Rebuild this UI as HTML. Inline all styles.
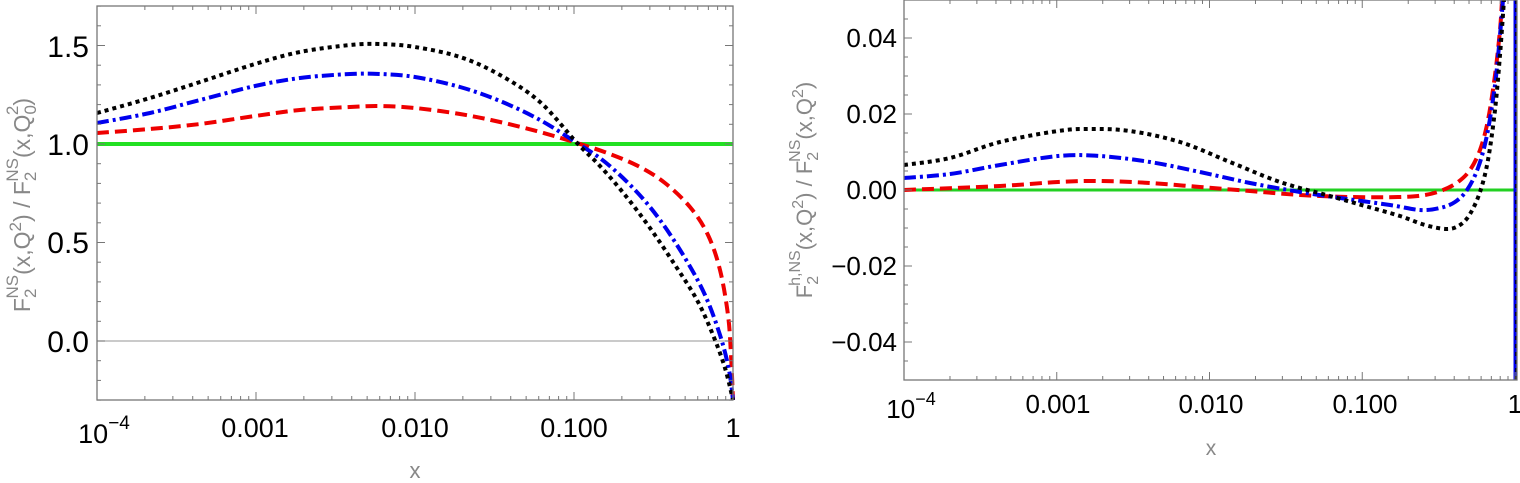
<!DOCTYPE html>
<html><head><meta charset="utf-8"><style>
html,body{margin:0;padding:0;background:#fff;}
svg{display:block;font-family:"Liberation Sans",sans-serif;}
</style></head><body>
<svg id="s" width="1520" height="483" viewBox="0 0 1520 483" xmlns="http://www.w3.org/2000/svg">
<rect width="1520" height="483" fill="#fff"/>
<!-- LEFT PLOT -->
<line x1="97" y1="341" x2="733" y2="341" stroke="#aaa" stroke-width="1.2"/>
<line x1="97" y1="144" x2="733" y2="144" stroke="#22e022" stroke-width="4"/>
<path class="c" fill="none" stroke="#e00" stroke-width="4" stroke-dasharray="12 6" data-p="97,133 150,129 200,124 255,116 300,110 350,107 380,106 415,108 460,114 500,122 540,132 577,143 610,154 640,167 665,183 690,207 708,235 720,270 728,315 731,355 733,400"/>
<path class="c" fill="none" stroke="#00e" stroke-width="4" stroke-dasharray="12 4 3 4" data-p="97,123 150,113 200,100 255,86 300,78 350,74 380,74 415,77 460,87 500,101 540,120 577,143 605,162 635,190 660,220 685,258 705,295 720,335 729,370 733,400"/>
<path class="c" fill="none" stroke="#000" stroke-width="4" stroke-dasharray="4 4" data-p="97,113 150,98 200,82 255,64 300,52 350,45 380,44 415,47 460,57 500,75 540,102 577,143 600,166 625,195 650,228 675,265 697,300 713,335 725,368 733,400"/>
<rect x="97" y="6" width="636" height="394" fill="none" stroke="#777" stroke-width="1.3"/>
<g font-size="30" text-anchor="end" fill="#000">
<text x="89" y="57">1.5</text><text x="89" y="155">1.0</text><text x="89" y="253">0.5</text><text x="89" y="352">0.0</text>
</g>
<g font-size="27" text-anchor="middle" fill="#000">
<text x="104" y="443">10<tspan font-size="19" dy="-14">−4</tspan></text>
<text x="255" y="437">0.001</text><text x="415" y="437">0.010</text><text x="574" y="437">0.100</text><text x="733" y="437">1</text>
</g>
<text x="415" y="478" font-size="22" fill="#888" text-anchor="middle">x</text>
<text transform="translate(30,205) rotate(-90)" font-size="23" fill="#888" text-anchor="middle">F<tspan font-size="17" dy="6">2</tspan><tspan font-size="17" dy="-18" dx="-10">NS</tspan><tspan dy="12">(x,Q</tspan><tspan font-size="17" dy="-9">2</tspan><tspan dy="9">) / F</tspan><tspan font-size="17" dy="6">2</tspan><tspan font-size="17" dy="-18" dx="-10">NS</tspan><tspan dy="12">(x,Q</tspan><tspan font-size="17" dy="6">0</tspan><tspan font-size="17" dy="-18" dx="-10">2</tspan><tspan dy="12">)</tspan></text>
<!-- RIGHT PLOT -->
<line x1="904" y1="190" x2="1515" y2="190" stroke="#22d022" stroke-width="3"/>
<path class="c" fill="none" stroke="#e00" stroke-width="4" stroke-dasharray="12 6" data-p="904,190 1000,186 1058,182 1100,181 1150,183 1200,187 1250,191 1300,195 1350,197 1400,197 1425,195 1443,190 1458,182 1470,170 1480,150 1488,120 1495,75 1500,30 1502,0"/>
<path class="c" fill="none" stroke="#00e" stroke-width="4" stroke-dasharray="12 4 3 4" data-p="904,178 950,174 1000,165 1058,156 1100,156 1150,162 1200,172 1250,183 1300,192 1340,198 1390,205 1420,210 1440,208 1455,202 1467,190 1478,168 1487,135 1495,85 1500,35 1503,0"/>
<path class="c" fill="none" stroke="#000" stroke-width="4" stroke-dasharray="4 4" data-p="904,165 950,158 1000,142 1058,131 1090,129 1130,131 1180,142 1230,162 1280,182 1330,196 1365,206 1400,216 1425,225 1447,229 1460,225 1470,214 1480,192 1488,160 1495,110 1500,55 1504,0"/>
<line x1="1515" y1="0" x2="1515" y2="380" stroke="#00e" stroke-width="3"/>
<line x1="1516" y1="0" x2="1516" y2="380" stroke="#000" stroke-width="1.5" stroke-dasharray="4 4"/>
<rect x="904" y="0" width="613" height="380" fill="none" stroke="#777" stroke-width="1.3"/>
<g font-size="26" text-anchor="end" fill="#000">
<text x="897" y="47">0.04</text><text x="897" y="123">0.02</text><text x="897" y="199">0.00</text><text x="897" y="275">−0.02</text><text x="897" y="351">−0.04</text>
</g>
<g font-size="26" text-anchor="middle" fill="#000">
<text x="911" y="418">10<tspan font-size="18" dy="-13">−4</tspan></text>
<text x="1058" y="413">0.001</text><text x="1211" y="413">0.010</text><text x="1365" y="413">0.100</text><text x="1515" y="413">1</text>
</g>
<text x="1211" y="455" font-size="21" fill="#888" text-anchor="middle">x</text>
<text transform="translate(812,190) rotate(-90)" font-size="22" fill="#888" text-anchor="middle">F<tspan font-size="16" dy="6">2</tspan><tspan font-size="16" dy="-18" dx="-10">h,NS</tspan><tspan dy="12">(x,Q</tspan><tspan font-size="16" dy="-9">2</tspan><tspan dy="9">) / F</tspan><tspan font-size="16" dy="6">2</tspan><tspan font-size="16" dy="-18" dx="-10">NS</tspan><tspan dy="12">(x,Q</tspan><tspan font-size="16" dy="-9">2</tspan><tspan dy="9">)</tspan></text>
<g id="ticks" stroke="#777" stroke-width="1"></g>
</svg>
<script>
var g=document.getElementById('ticks'),h='';
function L(a,b,c,d){h+='<line x1="'+a+'" y1="'+b+'" x2="'+c+'" y2="'+d+'"/>';}
function xt(x0,dec,yb,yt){for(var k=0;k<4;k++){for(var m=1;m<10;m++){var x=x0+dec*(k+Math.log10(m));var len=m==1?8:4;L(x,yb,x,yb-len);L(x,yt,x,yt+len);}}L(x0+4*dec,yb,x0+4*dec,yb-8);}
xt(97,159,400,6);xt(904,152.75,380,0);
for(var v=-0.3;v<=1.71;v+=0.1){var y=341-197*v;var mj=Math.abs(v*2-Math.round(v*2))<0.01;L(97,y,97+(mj?8:4),y);L(733,y,733-(mj?8:4),y);}
for(var v=-0.05;v<=0.0501;v+=0.005){var y=190-3800*v;var mj=Math.abs(v/0.02-Math.round(v/0.02))<0.01;L(904,y,904+(mj?8:4),y);}
g.innerHTML=h;
document.querySelectorAll('path.c').forEach(function(e){
var p=e.getAttribute('data-p').trim().split(/\s+/).map(function(s){return s.split(',').map(Number);});
var d='M'+p[0][0]+','+p[0][1];
for(var i=0;i<p.length-1;i++){var p0=p[i-1]||p[i],p1=p[i],p2=p[i+1],p3=p[i+2]||p2;
var c1=[p1[0]+(p2[0]-p0[0])/6,p1[1]+(p2[1]-p0[1])/6],c2=[p2[0]-(p3[0]-p1[0])/6,p2[1]-(p3[1]-p1[1])/6];
d+=' C'+c1+' '+c2+' '+p2;}
e.setAttribute('d',d);});
</script>
</body></html>
